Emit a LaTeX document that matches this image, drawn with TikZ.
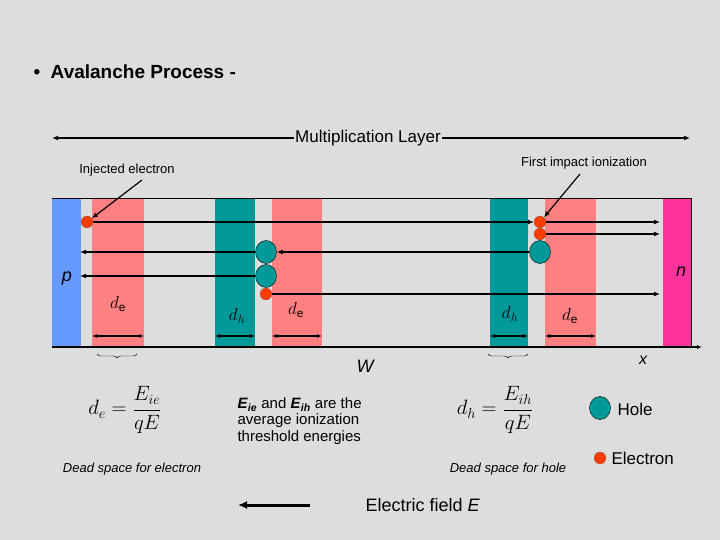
\documentclass[tikz,border=0pt]{standalone}
\usepackage{fontspec}
\setmainfont{Liberation Sans}
\usetikzlibrary{arrows.meta,decorations.pathreplacing,shapes.geometric}
\definecolor{bg}{RGB}{221,221,221}
\definecolor{pinkc}{RGB}{255,128,128}
\definecolor{tealc}{RGB}{0,153,153}
\definecolor{bluec}{RGB}{102,153,255}
\definecolor{magc}{RGB}{255,51,153}
\definecolor{elc}{RGB}{255,60,0}
\tikzset{
  hole/.style={ellipse,draw=black,thin,fill=tealc,minimum width=21pt,minimum height=23pt,inner sep=0pt},
  elec/.style={circle,draw=black!60,very thin,fill=elc,minimum size=12pt,inner sep=0pt},
  flow/.style={-{Latex[length=6pt,width=5pt]},line width=1.2pt},
  dim/.style={{Latex[length=5pt,width=4pt]}-{Latex[length=5pt,width=4pt]},line width=1.1pt},
  lbl/.style={font=\fontsize{17}{17}\selectfont},
}
\begin{document}
\begin{tikzpicture}[x=1pt,y=-1pt]
\useasboundingbox (0,0) rectangle (720,540);
\fill[bg] (0,0) rectangle (720,540);
\node[anchor=west,font=\bfseries\fontsize{19}{19}\selectfont] (title) at (30,72) {\textbullet\ \ Avalanche Process -};
% band
\draw[black,line width=0.5pt] (52,198) rectangle (691,347);
\fill[bluec] (52,198) rectangle (81,347);
\fill[pinkc] (92,198) rectangle (144,347);
\fill[tealc] (215,198) rectangle (255,347);
\fill[pinkc] (272,198) rectangle (322,347);
\fill[tealc] (490,198) rectangle (528,347);
\fill[pinkc] (545,198) rectangle (596,347);
\fill[magc] (663,198) rectangle (691,347);
\draw[black,line width=0.5pt] (52,198) -- (691,198);
\coordinate (xs) at (52,347); \coordinate (xe) at (702,347);
\draw[-{Latex[length=5pt,width=4pt]},line width=1.3pt] (xs) -- (xe);
\node[lbl,font=\itshape\fontsize{18}{18}\selectfont] (p) at (67,279) {p};
\node[lbl,font=\itshape\fontsize{18}{18}\selectfont] (n) at (681,272) {n};
% particles
\node[elec] (e0) at (87,222) {};
\node[elec] (e1) at (540,222) {};
\node[elec] (e2) at (540,234) {};
\node[hole] (h0) at (540,252) {};
\node[hole] (h1) at (266,252) {};
\node[hole] (h2) at (266,276) {};
\node[elec] (e3) at (266,294) {};
\coordinate (r1) at (660,222); \coordinate (r2) at (660,234);
\coordinate (r3) at (660,294);
\coordinate (l1) at (80,252); \coordinate (l2) at (80,276);
\draw[flow] (e0) -- (e1);
\draw[flow] (e1) -- (r1);
\draw[flow] (e2) -- (r2);
\draw[flow] (h0) -- (h1);
\draw[flow] (h1) -- (l1);
\draw[flow] (h2) -- (l2);
\draw[flow] (e3) -- (r3);
% dims
\draw[dim] (92,336) -- (144,336);
\draw[dim] (215,336) -- (255,336);
\draw[dim] (272,336) -- (322,336);
\draw[dim] (490,336) -- (528,336);
\draw[dim] (545,336) -- (596,336);
\node[lbl] (de1) at (118,304) {$d_{\mathrm e}$};
\node[lbl] (dh1) at (237,316) {$d_h$};
\node[lbl] (de2) at (296,310) {$d_{\mathrm e}$};
\node[lbl] (dh2) at (510,314) {$d_h$};
\node[lbl] (de3) at (570,316) {$d_{\mathrm e}$};
\draw[decorate,decoration={brace,mirror,amplitude=4pt},thin] (97,354) -- (137,354);
\draw[decorate,decoration={brace,mirror,amplitude=4pt},thin] (488,354) -- (528,354);
\node[lbl,font=\itshape\fontsize{18}{18}\selectfont] (W) at (365,366) {W};
\node[lbl,font=\itshape\fontsize{16}{16}\selectfont] (X) at (643,360) {x};
% top labels
\node[font=\fontsize{17}{17}\selectfont,inner sep=1pt] (ml) at (368,138) {Multiplication Layer};
\coordinate (mlL) at (52,138); \coordinate (mlR) at (690,138);
\draw[-{Latex[length=6pt,width=5pt]},line width=1.2pt] (ml) -- (mlL);
\draw[-{Latex[length=6pt,width=5pt]},line width=1.2pt] (ml) -- (mlR);
\node[font=\fontsize{13}{13}\selectfont] (inj) at (127,170) {Injected electron};
\node[font=\fontsize{13}{13}\selectfont] (fii) at (584,163) {First impact ionization};
\coordinate (ia) at (142,180); \coordinate (fa) at (580,174);
\draw[-{Latex[length=6pt,width=5pt]},line width=1.2pt] (ia) -- (e0);
\draw[-{Latex[length=6pt,width=5pt]},line width=1.2pt] (fa) -- (e1);
% formulas
\node[font=\fontsize{22}{22}\selectfont] (f1) at (125,410) {$\displaystyle d_e=\frac{E_{ie}}{qE}$};
\node[font=\itshape\fontsize{13}{13}\selectfont] (t1) at (132,469) {Dead space for electron};
\node[anchor=north west,align=left,font=\fontsize{15}{16.5}\selectfont] (txt) at (234,394) {\textbf{\textit{E}}\textsubscript{\textbf{\textit{ie}}} and \textbf{\textit{E}}\textsubscript{\textbf{\textit{ih}}} are the\\average ionization\\threshold energies};
\node[font=\fontsize{22}{22}\selectfont] (f2) at (495,410) {$\displaystyle d_h=\frac{E_{ih}}{qE}$};
\node[font=\itshape\fontsize{13}{13}\selectfont] (t2) at (508,469) {Dead space for hole};
\node[hole] (lh) at (600,408) {};
\node[anchor=west,font=\fontsize{17}{17}\selectfont] (lht) at (614,409) {Hole};
\node[elec] (le) at (600,458) {};
\node[anchor=west,font=\fontsize{17}{17}\selectfont] (let) at (608,458) {Electron};
\node[anchor=west,font=\fontsize{18}{18}\selectfont] (ef) at (362,505) {Electric field \textit{E}};
\coordinate (ea) at (310,505); \coordinate (eb) at (238,505);
\draw[-{Latex[length=9pt,width=8pt]},line width=3pt] (ea) -- (eb);
\end{tikzpicture}
\end{document}
